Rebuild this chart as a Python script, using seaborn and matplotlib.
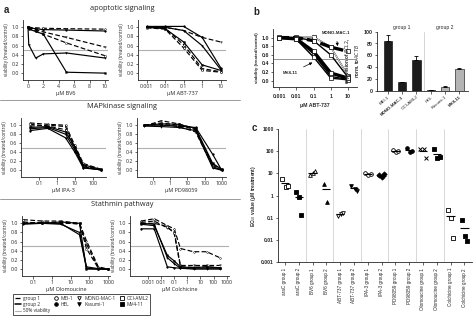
import numpy as np
import pandas as pd
import matplotlib
matplotlib.use("Agg")
import matplotlib.pyplot as plt
import matplotlib.ticker as mticker
from matplotlib.lines import Line2D
import seaborn as sns

# ---------------------------------------------------------------- cell lines
cell_lines = ["MEI-1", "MONO-MAC-1", "OCI-AML2", "HEL", "Kasumi-1", "MV4-11"]
cell_groups = ["group 1", "group 1", "group 1", "group 2", "group 2", "group 2"]

# ------------------------------------------- viability (treated/control) data
bv6_conc = [0, 0.1, 1, 2, 5, 10]
bv6_viab = {
    "MEI-1":      [1.00, 1.00, 0.99, 0.98, 0.97, 0.96],
    "MONO-MAC-1": [1.00, 0.99, 0.95, 0.90, 0.78, 0.57],
    "OCI-AML2":   [1.00, 0.98, 0.92, 0.85, 0.66, 0.38],
    "HEL":        [1.00, 0.99, 0.97, 0.95, 0.94, 0.92],
    "Kasumi-1":   [1.00, 0.62, 0.33, 0.42, 0.44, 0.33],
    "MV4-11":     [1.00, 0.96, 0.91, 0.85, 0.02, 0.00],
}

abt_conc = [0.001, 0.01, 0.1, 1, 10]
abt_viab = {
    "MEI-1":      [1.00, 0.98, 0.62, 0.10, 0.03],
    "MONO-MAC-1": [1.00, 1.00, 0.93, 0.78, 0.68],
    "OCI-AML2":   [0.99, 0.96, 0.55, 0.06, 0.02],
    "HEL":        [1.02, 1.02, 1.02, 0.78, 0.12],
    "Kasumi-1":   [1.00, 1.00, 0.93, 0.60, 0.08],
    "MV4-11":     [1.00, 0.97, 0.68, 0.18, 0.06],
}

ipa_conc = [0.03, 0.3, 3, 10, 30, 300]
ipa_viab = {
    "MEI-1":      [1.05, 1.02, 1.00, 0.55, 0.15, 0.02],
    "MONO-MAC-1": [0.98, 1.00, 0.97, 0.50, 0.10, 0.01],
    "OCI-AML2":   [1.02, 0.98, 0.90, 0.48, 0.08, 0.00],
    "HEL":        [0.88, 0.93, 0.72, 0.40, 0.05, 0.01],
    "Kasumi-1":   [0.92, 0.95, 0.80, 0.45, 0.06, 0.01],
    "MV4-11":     [0.95, 0.97, 0.85, 0.52, 0.12, 0.02],
}

pd_conc = [0.03, 0.3, 3, 30, 300, 1000]
pd_viab = {
    "MEI-1":      [1.00, 1.05, 1.00, 0.90, 0.12, 0.02],
    "MONO-MAC-1": [0.98, 1.10, 1.03, 0.92, 0.10, 0.00],
    "OCI-AML2":   [1.00, 1.02, 0.97, 0.85, 0.08, 0.00],
    "HEL":        [1.00, 1.00, 0.98, 0.95, 0.35, 0.00],
    "Kasumi-1":   [0.98, 0.97, 0.95, 0.88, 0.05, 0.00],
    "MV4-11":     [1.00, 1.03, 1.02, 0.93, 0.15, 0.02],
}

olo_conc = [0.03, 0.3, 3, 30, 70, 300, 1000]
olo_viab = {
    "MEI-1":      [1.08, 1.05, 1.05, 1.00, 0.62, 0.05, 0.00],
    "MONO-MAC-1": [1.00, 1.02, 1.02, 0.98, 0.55, 0.03, 0.00],
    "OCI-AML2":   [1.03, 1.00, 1.00, 1.00, 0.45, 0.02, 0.00],
    "HEL":        [0.98, 1.00, 1.00, 0.75, 0.02, 0.00, 0.00],
    "Kasumi-1":   [1.00, 1.00, 0.98, 0.80, 0.05, 0.01, 0.00],
    "MV4-11":     [1.00, 1.00, 1.03, 1.00, 0.00, 0.00, 0.00],
}

col_conc = [0.0003, 0.003, 0.03, 0.1, 0.3, 3, 30, 300]
col_viab = {
    "MEI-1":      [1.05, 1.10, 0.95, 0.88, 0.45, 0.38, 0.38, 0.25],
    "MONO-MAC-1": [1.02, 1.05, 0.90, 0.82, 0.08, 0.08, 0.08, 0.08],
    "OCI-AML2":   [1.00, 1.00, 0.93, 0.78, 0.05, 0.04, 0.05, 0.03],
    "HEL":        [0.88, 0.88, 0.05, 0.03, 0.02, 0.02, 0.02, 0.02],
    "Kasumi-1":   [1.00, 0.98, 0.25, 0.12, 0.02, 0.00, 0.00, 0.00],
    "MV4-11":     [0.98, 0.95, 0.30, 0.18, 0.05, 0.03, 0.05, 0.03],
}

# -------------------------------------------------- BCL2 expression (panel b)
bcl2_expr = [85, 14, 52, 1, 7, 37]
bcl2_err = [10, 1.5, 7, 0.5, 1, 1.5]

# ---------------------------------------------------- EC50 values (panel c)
ec50_labels = ["araC group 1", "araC group 2", "BV6 group 1", "BV6 group 2",
               "ABT-737 group 1", "ABT-737 group 2", "IPA-3 group 1", "IPA-3 group 2",
               "PD98059 group 1", "PD98059 group 2", "Olomoucine group 1",
               "Olomoucine group 2", "Colchicine group 1", "Colchicine group 2"]
ec50_values = [
    [5.8, 2.4, 2.6], [1.5, 0.9, 0.13], [8, 10, 13], [3.3, 0.5],
    [0.12, 0.14, 0.17], [2.8, 2.0, 1.6], [10, 8.5, 9.5], [8, 6.5, 9],
    [110, 95, 100], [140, 95, 105], [120, 130, 50], [120, 48, 52],
    [0.23, 0.10, 0.012], [0.08, 0.015, 0.0087],
]

# ------------------------------------------------------------------- styling
sns.set_theme(style="ticks")
plt.rcParams["font.family"] = ["Liberation Sans", "DejaVu Sans"]
plt.rcParams.update({
    "font.size": 4, "axes.linewidth": 0.6, "xtick.major.width": 0.5,
    "ytick.major.width": 0.5, "xtick.major.size": 1.8, "ytick.major.size": 1.8,
    "xtick.major.pad": 1.2, "ytick.major.pad": 1.2, "axes.labelpad": 1.5,
    "xtick.labelsize": 4, "ytick.labelsize": 4, "axes.labelsize": 4,
})

W, H = 474, 325
fig = plt.figure(figsize=(W / 100, H / 100), dpi=100)


def px_axes(x0, y0, x1, y1):
    return fig.add_axes([x0 / W, 1 - y1 / H, (x1 - x0) / W, (y1 - y0) / H])


line_markers = {"MEI-1": "o", "MONO-MAC-1": "v", "OCI-AML2": "s",
                "HEL": "o", "Kasumi-1": "v", "MV4-11": "s"}
dash = (0, (4, 2))
fa = "Open Sans"


def viability_panel(ax, conc, viab, xlabel, xlim, log=True, xticks=None, xticklabels=None):
    ax.axhline(0.5, color="#b0b0b0", lw=0.8, zorder=0)
    for name, grp in zip(cell_lines, cell_groups):
        g1 = grp == "group 1"
        sns.lineplot(x=conc, y=viab[name], ax=ax, color="black", lw=0.85,
                     linestyle=dash if g1 else "-", marker=line_markers[name],
                     markersize=1.2, markerfacecolor="white" if g1 else "black",
                     markeredgecolor="black", markeredgewidth=0.35,
                     sort=False, estimator=None, legend=False)
    if log:
        ax.set_xscale("log")
    ax.set_xlim(*xlim)
    ax.set_ylim(-0.15, 1.16)
    if xticks is not None:
        ax.set_xticks(xticks)
        ax.set_xticklabels(xticklabels)
    ax.xaxis.set_minor_locator(mticker.NullLocator())
    ax.set_yticks([0, 0.2, 0.4, 0.6, 0.8, 1.0])
    ax.set_yticklabels(["0.0", "0.2", "0.4", "0.6", "0.8", "1.0"])
    ax.set_xlabel(xlabel, fontsize=4, family=fa, labelpad=1.5)
    ax.set_ylabel("viability (treated/control)", fontsize=3.3, family=fa, labelpad=2)
    for lab in ax.get_xticklabels() + ax.get_yticklabels():
        lab.set_family(fa)
        lab.set_fontsize(3.8)
    sns.despine(ax=ax)


# ---------------------------------------------------------------- panel a
ax = px_axes(23, 20, 108, 80)
viability_panel(ax, bv6_conc, bv6_viab, "µM BV6", (-0.65, 10.4), log=False,
                xticks=[0, 2, 4, 6, 8, 10], xticklabels=["0", "2", "4", "6", "8", "10"])
ax = px_axes(138, 20, 226, 80)
viability_panel(ax, abt_conc, abt_viab, "µM ABT-737", (10 ** -3.47, 10 ** 1.29),
                xticks=[0.001, 0.01, 0.1, 1, 10],
                xticklabels=["0.001", "0.01", "0.1", "1", "10"])
ax = px_axes(21, 118, 106, 177)
viability_panel(ax, ipa_conc, ipa_viab, "µM IPA-3", (10 ** -2.03, 10 ** 2.75),
                xticks=[0.1, 1, 10, 100], xticklabels=["0.1", "1", "10", "100"])
ax = px_axes(137, 118, 226, 177)
viability_panel(ax, pd_conc, pd_viab, "µM PD98059", (10 ** -1.95, 10 ** 3.25),
                xticks=[0.1, 1, 10, 100, 1000], xticklabels=["0.1", "1", "10", "100", "1000"])
ax = px_axes(22, 216, 110, 276)
viability_panel(ax, olo_conc, olo_viab, "µM Olomoucine", (10 ** -1.59, 10 ** 3.1),
                xticks=[0.1, 1, 10, 100, 1000], xticklabels=["0.1", "1", "10", "100", "1000"])
ax = px_axes(130, 216, 229, 276)
viability_panel(ax, col_conc, col_viab, "µM Colchicine", (10 ** -4.37, 10 ** 3.18),
                xticks=[0.001, 0.01, 0.1, 1, 10, 100, 1000],
                xticklabels=["0.001", "0.01", "0.1", "1", "10", "100", "1000"])

fig.text(4 / W, 1 - 10 / H, "a", fontsize=7, fontweight="bold", va="center", ha="left")
for ytxt, title in [(9, "apoptotic signaling"), (107, "MAPkinase signaling"),
                    (205, "Stathmin pathway")]:
    fig.text(122 / W, 1 - ytxt / H, title, fontsize=5.3, family=fa, ha="center", va="center")
for ysep in [99.5, 198.5]:
    fig.add_artist(Line2D([0, 240 / W], [1 - ysep / H] * 2, color="#8a8a8a", lw=0.6))

# legend for panel a
blank = Line2D([], [], linestyle="none")
h_g1 = Line2D([], [], color="black", lw=0.9, linestyle=dash)
h_g2 = Line2D([], [], color="black", lw=1.1)
h_50 = Line2D([], [], color="#b0b0b0", lw=0.8)
hm = {n: Line2D([], [], linestyle="none", marker=line_markers[n], markersize=2.6,
                markerfacecolor=("white" if g == "group 1" else "black"),
                markeredgecolor="black", markeredgewidth=0.6)
      for n, g in zip(cell_lines, cell_groups)}
handles = [h_g1, h_g2, h_50, hm["MEI-1"], hm["HEL"], blank,
           hm["MONO-MAC-1"], hm["Kasumi-1"], blank, hm["OCI-AML2"], hm["MV4-11"], blank]
labels = ["group 1", "group 2", "50% viability", "MEI-1", "HEL", "",
          "MONO-MAC-1", "Kasumi-1", "", "OCI-AML2", "MV4-11", ""]
leg = fig.legend(handles, labels, ncol=4, loc="upper left",
                 bbox_to_anchor=(13 / W, 1 - 294 / H), frameon=True, fancybox=False,
                 prop={"family": fa, "size": 3.4}, handlelength=1.4, handletextpad=0.35,
                 columnspacing=0.55, labelspacing=0.3, borderpad=0.35, borderaxespad=0)
leg.get_frame().set_edgecolor("black")
leg.get_frame().set_linewidth(0.6)

# ---------------------------------------------------------------- panel b
fig.text(253 / W, 1 - 12 / H, "b", fontsize=7, fontweight="bold", va="center", ha="left")
axb = px_axes(273, 29, 357, 87)
axb.axhline(0.5, color="#808080", lw=0.6, zorder=0)
for name, grp in zip(cell_lines, cell_groups):
    thick = name in ("MONO-MAC-1", "MV4-11")
    sns.lineplot(x=abt_conc, y=abt_viab[name], ax=axb, color="black",
                 lw=2.4 if thick else 1.0, linestyle=(0, (3, 1.2)) if name == "MONO-MAC-1" else "-",
                 marker="s", markersize=2.6, markerfacecolor="white",
                 markeredgecolor="black", markeredgewidth=0.5,
                 sort=False, estimator=None, legend=False, zorder=3 if thick else 2)
    if name == "HEL":
        axb.plot(abt_conc, abt_viab[name], color="white", lw=0.6, zorder=2.5)
axb.set_xscale("log")
axb.set_xlim(10 ** -3.35, 10 ** 1.52)
axb.set_ylim(-0.145, 1.2)
axb.set_xticks([0.001, 0.01, 0.1, 1, 10])
axb.set_xticklabels(["0.001", "0.01", "0.1", "1", "10"])
axb.xaxis.set_minor_locator(mticker.NullLocator())
axb.set_yticks([0, 0.2, 0.4, 0.6, 0.8, 1.0])
axb.set_yticklabels(["0.0", "0.2", "0.4", "0.6", "0.8", "1.0"])
axb.set_xlabel("µM ABT-737", fontsize=3.8, fontweight="bold", labelpad=3)
axb.set_ylabel("viability (treated/control)", fontsize=3.2, fontweight="bold", labelpad=2)
for lab in axb.get_xticklabels() + axb.get_yticklabels():
    lab.set_fontweight("bold")
    lab.set_fontsize(3.8)
axb.tick_params(axis="x", pad=3)
sns.despine(ax=axb)
arrow = dict(arrowstyle="-|>", color="black", lw=0.5, mutation_scale=4)
axb.annotate("MONO-MAC-1", xy=(2.6, 0.74), xytext=(2.0, 1.1), fontsize=3.2,
             fontweight="bold", ha="center", va="center", arrowprops=arrow)
axb.annotate("MV4-11", xy=(0.12, 0.45), xytext=(0.0045, 0.17), fontsize=3.2,
             fontweight="bold", ha="center", va="center", arrowprops=arrow)

# BCL2 expression bars
axe = px_axes(377, 31.7, 468, 90.7)
bar_df = pd.DataFrame({"cell line": cell_lines, "expr": bcl2_expr, "group": cell_groups})
bar_colors = ["#1c1c1c", "#1c1c1c", "#1c1c1c", "#1c1c1c", "#b4b4b4", "#b4b4b4"]
sns.barplot(data=bar_df, x="cell line", y="expr", hue="cell line", palette=bar_colors,
            ax=axe, width=0.58, edgecolor="black", linewidth=0.4, legend=False)
axe.errorbar(range(len(cell_lines)), bcl2_expr, yerr=[[0] * 6, bcl2_err], fmt="none",
             ecolor="black", elinewidth=0.6, capsize=1.5, capthick=0.6)
axe.axvline(2.5, color="#cfcfcf", lw=0.6, zorder=0)
axe.set_xlim(-0.75, 5.6)
axe.set_ylim(0, 100)
axe.set_yticks([0, 20, 40, 60, 80, 100])
axe.set_xlabel("")
axe.set_ylabel("expression of $\\it{BCL2}$,\nnorm. to $\\it{ACTB}$", fontsize=3.3,
               fontweight="bold", labelpad=2, linespacing=1.1)
axe.set_xticks(range(len(cell_lines)))
axe.set_xticklabels(cell_lines, rotation=40, ha="right", rotation_mode="anchor", fontsize=3.2)
for lab in axe.get_xticklabels():
    if lab.get_text() in ("MONO-MAC-1", "MV4-11"):
        lab.set_fontweight("bold")
for lab in axe.get_yticklabels():
    lab.set_fontweight("bold")
    lab.set_fontsize(3.8)
axe.text(1.0, 103, "group 1", fontsize=3.6, ha="center", va="bottom")
axe.text(4.0, 103, "group 2", fontsize=3.6, ha="center", va="bottom")
sns.despine(ax=axe)

# ---------------------------------------------------------------- panel c
fig.text(252 / W, 1 - 128 / H, "c", fontsize=7, fontweight="bold", va="center", ha="left")
axc = px_axes(278, 129, 472, 262)
c_markers = ["s", "s", "^", "^", "v", "v", "o", "D", "o", "o", "x", "s", "s", "s"]
c_filled = [False, True, False, True, False, True, False, True,
            False, True, False, True, False, True]
offsets3 = [-0.18, 0.05, 0.2]
rows = []
for i, (lab, vals) in enumerate(zip(ec50_labels, ec50_values)):
    for j, v in enumerate(vals):
        rows.append({"pos": i + offsets3[j % 3], "ec50": v, "cat": lab})
ec_df = pd.DataFrame(rows)
for i, lab in enumerate(ec50_labels):
    sub = ec_df[ec_df["cat"] == lab]
    mk = c_markers[i]
    if mk == "x":
        sns.scatterplot(data=sub, x="pos", y="ec50", ax=axc, marker="x", color="black",
                        s=8, linewidth=0.7, legend=False, zorder=3)
    else:
        sns.scatterplot(data=sub, x="pos", y="ec50", ax=axc, marker=mk,
                        facecolor="black" if c_filled[i] else "white",
                        edgecolor="black", s=7, linewidth=0.6, legend=False, zorder=3)
    m = float(np.mean(ec50_values[i]))
    axc.hlines(m, i - 0.3, i + 0.3, color="black", lw=0.8, zorder=4)
for xs in np.arange(1.5, 12.6, 2):
    axc.axvline(xs, color="#d2d2d2", lw=0.6, zorder=0)
axc.set_yscale("log")
axc.set_ylim(0.001, 1000)
axc.set_xlim(-0.5, 13.55)
axc.set_yticks([0.001, 0.01, 0.1, 1, 10, 100, 1000])
axc.set_yticklabels(["0.001", "0.01", "0.1", "1", "10", "100", "1000"])
axc.yaxis.set_minor_locator(mticker.NullLocator())
axc.set_xticks(range(len(ec50_labels)))
axc.set_xticklabels(ec50_labels, rotation=90, fontsize=3.3)
axc.set_xlabel("")
axc.set_ylabel("EC$_{50}$ value (µM treatment)", fontsize=3.5, fontweight="bold", labelpad=2)
for lab in axc.get_yticklabels():
    lab.set_fontweight("bold")
    lab.set_fontsize(3.6)
axc.tick_params(axis="x", pad=2.5)
sns.despine(ax=axc)

fig.savefig("out.png", dpi=100)
